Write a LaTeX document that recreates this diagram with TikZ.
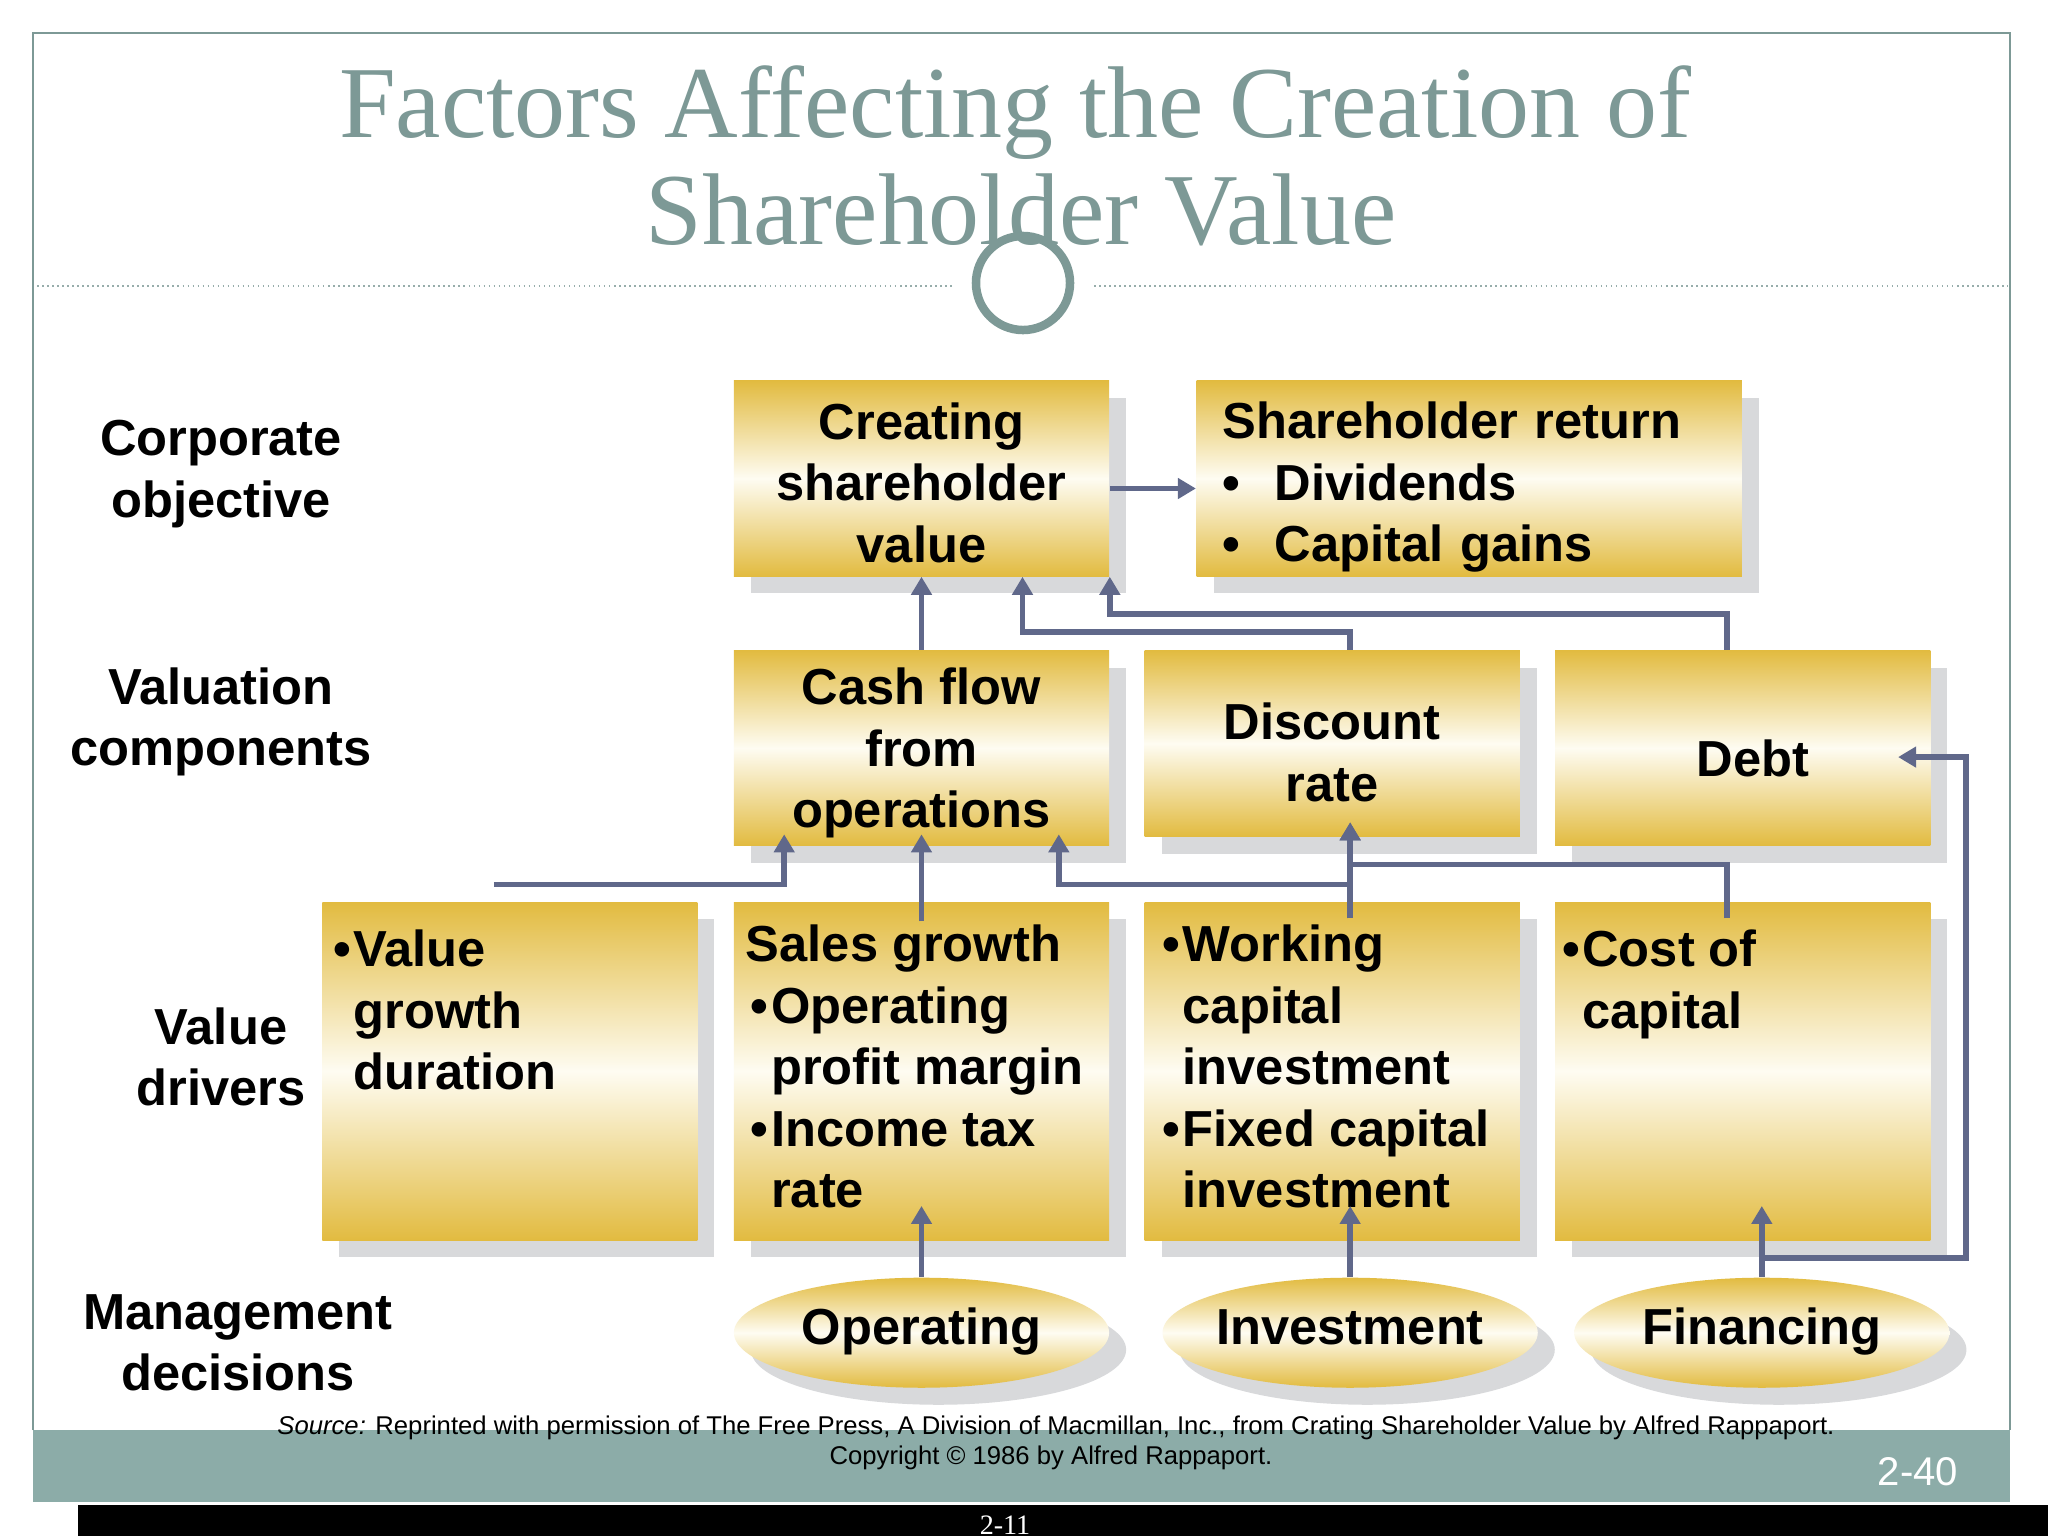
\documentclass[tikz,border=0pt]{standalone}
\usepackage{fontspec}
\setmainfont{Liberation Sans}
\newfontfamily\ttlfont{Liberation Serif}
\usetikzlibrary{arrows.meta, positioning, shapes.geometric, shadows, calc}

\definecolor{goldc}{RGB}{226,187,64}
\definecolor{creamc}{RGB}{254,252,242}
\definecolor{shadowc}{RGB}{216,217,219}
\definecolor{linkc}{RGB}{96,104,138}
\definecolor{titlec}{RGB}{125,153,150}
\definecolor{bandc}{RGB}{140,172,168}

\newcommand{\boxfont}{\fontsize{14.4}{17.5}\selectfont\bfseries}
\newcommand{\boxstrut}[1]{\rule{0pt}{#1}}
\newcommand{\bul}{\makebox[0.4em][l]{•}}

\begin{document}
\begin{tikzpicture}[
    x=0.01cm, y=-0.01cm,
    box/.style={rectangle, top color=goldc, bottom color=goldc, middle color=creamc,
        minimum width=3.75cm, minimum height=1.95cm, inner sep=0pt, align=center, font=\boxfont,
        drop shadow={shadow xshift=0.17cm, shadow yshift=-0.17cm, fill=shadowc, opacity=1}},
    drv/.style={box, minimum height=3.38cm},
    ell/.style={box, ellipse, minimum width=3.75cm, minimum height=1.1cm, inner xsep=-0.3cm,
        text height=0.9em, text depth=0.21em},
    txt/.style={anchor=north west, inner sep=0pt, align=left, font=\boxfont},
    lbl/.style={align=center, font=\boxfont},
    arrow/.style={-{Triangle[length=0.18cm, width=0.2cm]}, linkc, line width=0.055cm}
]
    \useasboundingbox (0,0) rectangle (2048,1536);
    \fill[white] (0,0) rectangle (2048,1536);

    % slide frame
    \fill[bandc] (33,1430) rectangle (2010,1502);
    \fill[black] (78,1505) rectangle (2048,1536);
    \draw[titlec, line width=0.02cm] (33,1430) -- (33,33) -- (2010,33) -- (2010,1430);
    \draw[titlec!80, densely dotted, line width=0.015cm] (37,286) -- (953,286);
    \draw[titlec!80, densely dotted, line width=0.015cm] (1094,286) -- (2008,286);

    % title
    \node[anchor=base, text=titlec, font=\ttlfont\fontsize{29}{30}\selectfont] (title1) at (1015,137) {Factors Affecting the Creation of};
    \node[anchor=base, text=titlec, font=\ttlfont\fontsize{29}{30}\selectfont] (title2) at (1021,244) {Shareholder Value};
    \draw[titlec, line width=0.085cm] (1023,283) circle[radius=0.47cm];

    % row labels
    \node[lbl] (corpobj) at (221,474) {Corporate\\objective};
    \node[lbl] (valcomp) at (221,722) {Valuation\\components};
    \node[lbl] (valdrv) at (221,1057) {Value\\drivers};
    \node[lbl] (mgmtdec) at (238,1343) {Management\\decisions};

    % corporate objective
    \node[box] (create) at (921.5,478.5) {\boxstrut{12.7pt}Creating\\shareholder\\value};
    \node[box, minimum width=5.45cm, text width=4.93cm, align=left, right=0.86cm of create] (shret)
        {\boxstrut{15.5pt}Shareholder return\\\makebox[1.03em][l]{•}Dividends\\\makebox[1.03em][l]{•}Capital gains};

    % valuation components
    \node[box, below=0.73cm of create] (cfo) {\boxstrut{13.3pt}Cash flow\\from\\operations};
    \node[box, minimum height=1.86cm, right=0.34cm of cfo.north east, anchor=north west] (disc) {\boxstrut{15.5pt}Discount\\rate};
    \node[box, right=0.34cm of disc.north east, anchor=north west] (debt) {\boxstrut{16.1pt}\hspace*{0.2cm}Debt};

    % value drivers
    \node[drv, below=0.55cm of cfo] (sales) {};
    \node[drv, left=0.35cm of sales] (vgd) {};
    \node[drv, right=0.34cm of sales] (wcap) {};
    \node[drv, right=0.34cm of wcap] (coc) {};
    \node[txt] (vgdtxt) at ($(vgd.north west)+(11,28)$) {\bul Value\\\hphantom{\bul}growth\\\hphantom{\bul}duration};
    \node[txt] (salestxt) at ($(sales.north west)+(12,23)$) {Sales growth\\\hspace{0.1em}\bul Operating\\\hspace{0.1em}\hphantom{\bul}profit margin\\\hspace{0.1em}\bul Income tax\\\hspace{0.1em}\hphantom{\bul}rate};
    \node[txt] (wcaptxt) at ($(wcap.north west)+(18,23)$) {\bul Working\\\hphantom{\bul}capital\\\hphantom{\bul}investment\\\bul Fixed capital\\\hphantom{\bul}investment};
    \node[txt] (coctxt) at ($(coc.north west)+(7,28)$) {\bul Cost of\\\hphantom{\bul}capital};

    % management decisions
    \node[ell, below=0.36cm of sales] (oper) {Operating};
    \node[ell, right=0.52cm of oper] (inv) {Investment};
    \node[ell, right=0.35cm of inv] (fin) {Financing};

    % objective
    \draw[arrow] ($(create.east)+(0,10)$) -- ($(shret.west)+(0,10)$);
    \draw[arrow] (cfo.north) -- (create.south);
    \draw[arrow] (disc.north -| inv.north) -- ++(0,-18) -| ($(create.south)+(101,0)$);
    \draw[arrow] ($(debt.north)+(-16,0)$) -- ++(0,-36) -| (create.south east);

    % drivers to components
    \draw[arrow] ($(vgd.north)+(-16,-17)$) -| ($(cfo.south west)+(51,-12)$);
    \draw[arrow] ($(sales.north)+(0,20)$) -- ($(cfo.south)+(0,-12)$);
    \draw[arrow] ($(wcap.north -| inv.north)+(0,17)$) -- ++(0,-34) -| ($(cfo.south east)+(-51,-12)$);
    \draw[arrow] ($(wcap.north -| inv.north)+(0,17)$) -- ($(disc.south -| inv.north)+(0,-15)$);
    \draw[arrow] ($(coc.north)+(-16,17)$) -- ++(0,-54) -| ($(disc.south -| inv.north)+(0,-15)$);

    % decisions to drivers
    \draw[arrow] (oper.north) -- ($(oper.north |- sales.south)+(0,-35)$);
    \draw[arrow] (inv.north) -- ($(inv.north |- wcap.south)+(0,-35)$);
    \draw[arrow] (fin.north) -- ($(fin.north |- coc.south)+(0,-35)$);
    \draw[arrow] ($(fin.north)+(0,-19)$) -- ++(204,0) |- ($(debt.east)+(-33,9)$);

    % footer
    \node[anchor=base, font=\fontsize{7.3}{8.5}\selectfont] (srcnote) at (1056,1434)
        {\textit{Source:} Reprinted with permission of The Free Press, A Division of Macmillan, Inc., from Crating Shareholder Value by Alfred Rappaport.};
    \node[anchor=base, font=\fontsize{7.3}{8.5}\selectfont] (copynote) at (1051,1464) {Copyright © 1986 by Alfred Rappaport.};
    \node[anchor=base, text=white, font=\fontsize{11.4}{13}\selectfont] (slideno) at (1918,1485) {2-40};
    \node[anchor=base, text=white, font=\ttlfont\fontsize{8}{9}\selectfont] (pageno) at (1005,1534) {2-11};
\end{tikzpicture}
\end{document}
